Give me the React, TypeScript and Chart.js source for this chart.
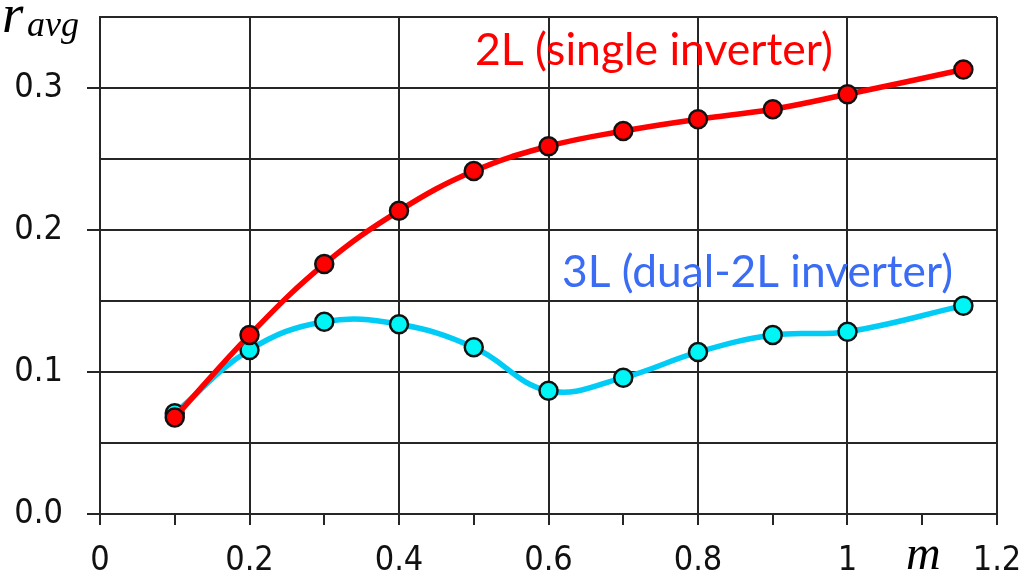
import React, { useEffect, useRef } from "react";
import { Chart, registerables } from "chart.js";

Chart.register(...registerables);

// ---- data ----
const mValues = [0.1, 0.2, 0.3, 0.4, 0.5, 0.6, 0.7, 0.8, 0.9, 1.0, 1.155];
const r2L = [0.068, 0.126, 0.176, 0.2135, 0.2415, 0.259, 0.2697, 0.278, 0.285, 0.2956, 0.313];
const r3L = [0.071, 0.1155, 0.1354, 0.1336, 0.1174, 0.0868, 0.096, 0.114, 0.126, 0.1284, 0.1467];
const seriesLabels = ["2L (single inverter)", "3L (dual-2L inverter)"];
const xAxisTitle = "m";
const yAxisTitleMain = "r";
const yAxisTitleSub = "avg";

const RED = "#ff0000";
const CYAN_LINE = "#00ccf5";
const CYAN_FILL = "#00f5f5";
const BLUE_TEXT = "#3a6cf4";
const GRID = "#262626";
const TICK_FONT = "'DejaVu Sans Condensed', 'Liberation Sans'";

function isMultiple(v: number, step: number) {
  const r = v / step;
  return Math.abs(r - Math.round(r)) < 1e-6;
}

function fitText(
  ctx: CanvasRenderingContext2D,
  text: string,
  x: number,
  baseline: number,
  width: number,
  font: string,
  color: string
) {
  ctx.save();
  ctx.font = font;
  const w = ctx.measureText(text).width;
  ctx.translate(x, baseline);
  ctx.scale(width / w, 1);
  ctx.fillStyle = color;
  ctx.textBaseline = "alphabetic";
  ctx.textAlign = "left";
  ctx.fillText(text, 0, 0);
  ctx.restore();
}

const annotationPlugin = {
  id: "annotations",
  afterDraw(chart: any) {
    const ctx: CanvasRenderingContext2D = chart.ctx;
    fitText(ctx, seriesLabels[0], 475, 65, 358, "45px Lato", RED);
    fitText(ctx, seriesLabels[1], 562, 287, 391, "44px Lato", BLUE_TEXT);

    ctx.save();
    ctx.fillStyle = "#000";
    ctx.textBaseline = "alphabetic";
    ctx.textAlign = "left";
    ctx.font = "italic 55px 'Liberation Serif'";
    ctx.fillText(yAxisTitleMain, 2, 32);
    ctx.font = "italic 36px 'Liberation Serif'";
    ctx.fillText(yAxisTitleSub, 27, 36);
    ctx.font = "italic 48px 'Liberation Serif'";
    ctx.fillText(xAxisTitle, 906, 569);
    ctx.restore();
  },
};

function zeroPadding(scale: any) {
  scale.paddingTop = 0;
  scale.paddingBottom = 0;
  scale.paddingLeft = 0;
  scale.paddingRight = 0;
}

export default function App() {
  const ref = useRef<HTMLCanvasElement | null>(null);

  useEffect(() => {
    if (!ref.current) return;
    const chart = new Chart(ref.current, {
      type: "line",
      data: {
        datasets: [
          {
            label: seriesLabels[0],
            data: mValues.map((x, i) => ({ x, y: r2L[i] })),
            borderColor: RED,
            backgroundColor: RED,
            borderWidth: 5.5,
            tension: 0.4,
            pointRadius: 9,
            pointBorderWidth: 2.5,
            pointBorderColor: "#111",
            pointBackgroundColor: RED,
          },
          {
            label: seriesLabels[1],
            data: mValues.map((x, i) => ({ x, y: r3L[i] })),
            borderColor: CYAN_LINE,
            backgroundColor: CYAN_FILL,
            borderWidth: 5.5,
            tension: 0.4,
            pointRadius: 9,
            pointBorderWidth: 2.5,
            pointBorderColor: "#111",
            pointBackgroundColor: CYAN_FILL,
          },
        ],
      },
      options: {
        responsive: false,
        animation: false,
        devicePixelRatio: 1,
        layout: { padding: { top: 17, right: 27, left: 0, bottom: 0 } },
        plugins: {
          legend: { display: false },
          tooltip: { enabled: false },
        },
        scales: {
          x: {
            type: "linear",
            min: 0,
            max: 1.2,
            afterFit: (scale: any) => {
              scale.height = 67;
              zeroPadding(scale);
            },
            ticks: {
              stepSize: 0.1,
              autoSkip: false,
              maxRotation: 0,
              padding: 16,
              color: "#111",
              font: { family: TICK_FONT, size: 34 },
              callback: (v: any) =>
                isMultiple(Number(v), 0.2) ? String(Math.round(Number(v) * 10) / 10) : "",
            },
            grid: {
              color: (c: any) =>
                isMultiple(c.tick?.value ?? 0, 0.2) ? GRID : "rgba(0,0,0,0)",
              tickColor: GRID,
              lineWidth: 2,
              tickLength: 11,
            },
            border: { display: true, color: GRID, width: 2 },
          },
          y: {
            type: "linear",
            min: 0,
            max: 0.35,
            afterFit: (scale: any) => {
              scale.width = 100;
              zeroPadding(scale);
            },
            ticks: {
              stepSize: 0.05,
              autoSkip: false,
              padding: 24,
              color: "#111",
              font: { family: TICK_FONT, size: 34 },
              callback: (v: any) =>
                isMultiple(Number(v), 0.1) ? Number(v).toFixed(1) : "",
            },
            grid: {
              color: GRID,
              tickColor: (c: any) =>
                isMultiple(c.tick?.value ?? 0, 0.1) ? GRID : "rgba(0,0,0,0)",
              lineWidth: 2,
              tickLength: 13,
            },
            border: { display: true, color: GRID, width: 2 },
          },
        },
      },
      plugins: [annotationPlugin],
    });
    return () => chart.destroy();
  }, []);

  return (
    <div style={{ position: "fixed", left: 0, top: 0, width: 1024, height: 581, background: "#fff" }}>
      <canvas ref={ref} width={1024} height={581} style={{ display: "block" }} />
    </div>
  );
}
